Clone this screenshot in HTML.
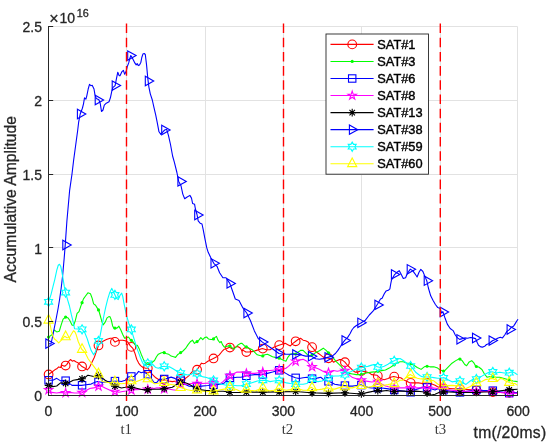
<!DOCTYPE html>
<html lang="en"><head><meta charset="utf-8"><title>Accumulative Amplitude</title>
<style>html,body{margin:0;padding:0;background:#fff}body{width:550px;height:446px;overflow:hidden}svg{display:block}text{font-family:"Liberation Sans", Arial, Helvetica, sans-serif;fill:#262626;stroke:#262626;stroke-width:0.3px}</style></head><body>
<svg width="550" height="446" viewBox="0 0 550 446">
<rect width="550" height="446" fill="#fff"/>
<path d="M48.5 26.5V395.5M126.5 26.5V395.5M205.5 26.5V395.5M283.5 26.5V395.5M361.5 26.5V395.5M440.5 26.5V395.5M517.5 26.5V395.5M48.5 395.5H517.5M48.5 321.5H517.5M48.5 247.5H517.5M48.5 174.5H517.5M48.5 100.5H517.5M48.5 26.5H517.5" stroke="#e2e2e2" stroke-width="1" fill="none"/>
<path d="M48.45 374.55L51.64 372.26L54.82 369.84L56.73 368.82L58.64 366.91L60.55 367.55L61.82 365L63.35 365.89L65 366.15L66.91 364.36L68.82 361.18L70.73 359.53L72.26 361.18L73.91 360.55L75.82 361.82L78.36 363.09L81.55 366.15L84.73 367.93L87.27 369.84L89.18 367.93L91.73 362.84L94.27 357.49L96.18 352.15L98.73 344.76L102.55 341.46L106.36 339.55L110.18 338.27L112.55 338.27L113.36 340.18L115.09 342.09L117.64 340.82L120.18 340.18L122.73 340.18L125.27 340.82L127.82 342.09L130.36 345.91L132.91 348.46L134.82 352.91L136.73 359.27L138.64 363.09L140.55 365.64L143.09 367.55L145.64 368.18L148.18 368.18L150.73 372.73L153.27 375.27L155.82 377.82L159 379.73L162.18 380.36L164.73 379.73L168.55 381L172.36 381.64L176.18 381L179.82 378.46L183 380.36L188.73 375.91L192.55 371.46L196.36 370.82L198.91 367L201.46 363.18L203.36 363.82L205.27 363.18L207.82 361.27L210.36 360L212.91 358.73L216.73 356.82L219.27 354.91L221.82 351.73L224.36 349.18L226.91 348.55L229.46 347.27L232.64 349.09L235.18 347.18L237.73 346.55L240.27 348.07L242 351L242.82 350.11L245.82 352.02L249.64 351.89L253.45 351.38L257.27 350.11L262.36 348.46L266.18 349.73L270 349.73L273.82 347.18L278.91 345.27L282.73 344L285.27 343.36L287.82 344.64L290.36 345.91L292.91 343.36L295.46 341.46L298 339.55L300.55 338.27L303.09 340.18L305.64 340.82L308.18 342.09L311.18 346.27L313.09 348.18L315.64 351.36L318.18 353.27L320.73 355.18L323.27 357.09L327.73 357.98L330.91 359L333.46 362.18L336 360.91L339.18 359.64L341.73 359.64L344.91 362.18L347.46 365.24L350 367.66L352.55 370.21L355.09 372.12L357.64 372.12L360.82 370.85L364 371.48L366.55 372.12L369.09 372.76L371.64 374.66L377.18 375.27L380.36 378.46L384.18 379.73L388 378.46L390.55 377.18L393.73 376.55L396.91 377.18L400.73 377.82L404.55 380.36L410.27 382.91L414.73 382.91L418.55 382.91L422.36 383.55L426.82 382.91L431.27 383.8L435.09 385.2L437.64 386.73L440.18 387.75L444 388.38L459.38 389.02L464.73 389.27L471.09 389.91L475.8 390.29L483.82 390.8L492.22 392.07L500.36 392.46L508.64 392.84L517.55 392.84" fill="none" stroke="#ff0000" stroke-width="1.1" stroke-linejoin="round"/>
<g><circle cx="48.6" cy="374.44" r="4.35" fill="none" stroke="#ff0000" stroke-width="1.1" stroke-linejoin="miter"/><circle cx="65.63" cy="365.56" r="4.35" fill="none" stroke="#ff0000" stroke-width="1.1" stroke-linejoin="miter"/><circle cx="82.06" cy="366.44" r="4.35" fill="none" stroke="#ff0000" stroke-width="1.1" stroke-linejoin="miter"/><circle cx="98.49" cy="345.46" r="4.35" fill="none" stroke="#ff0000" stroke-width="1.1" stroke-linejoin="miter"/><circle cx="114.92" cy="341.9" r="4.35" fill="none" stroke="#ff0000" stroke-width="1.1" stroke-linejoin="miter"/><circle cx="131.35" cy="346.9" r="4.35" fill="none" stroke="#ff0000" stroke-width="1.1" stroke-linejoin="miter"/><circle cx="147.78" cy="368.18" r="4.35" fill="none" stroke="#ff0000" stroke-width="1.1" stroke-linejoin="miter"/><circle cx="164.21" cy="379.86" r="4.35" fill="none" stroke="#ff0000" stroke-width="1.1" stroke-linejoin="miter"/><circle cx="180.64" cy="378.95" r="4.35" fill="none" stroke="#ff0000" stroke-width="1.1" stroke-linejoin="miter"/><circle cx="197.07" cy="369.76" r="4.35" fill="none" stroke="#ff0000" stroke-width="1.1" stroke-linejoin="miter"/><circle cx="213.5" cy="358.44" r="4.35" fill="none" stroke="#ff0000" stroke-width="1.1" stroke-linejoin="miter"/><circle cx="229.93" cy="347.54" r="4.35" fill="none" stroke="#ff0000" stroke-width="1.1" stroke-linejoin="miter"/><circle cx="246.36" cy="352" r="4.35" fill="none" stroke="#ff0000" stroke-width="1.1" stroke-linejoin="miter"/><circle cx="262.79" cy="348.6" r="4.35" fill="none" stroke="#ff0000" stroke-width="1.1" stroke-linejoin="miter"/><circle cx="279.22" cy="345.17" r="4.35" fill="none" stroke="#ff0000" stroke-width="1.1" stroke-linejoin="miter"/><circle cx="295.65" cy="341.32" r="4.35" fill="none" stroke="#ff0000" stroke-width="1.1" stroke-linejoin="miter"/><circle cx="312.08" cy="347.17" r="4.35" fill="none" stroke="#ff0000" stroke-width="1.1" stroke-linejoin="miter"/><circle cx="328.51" cy="358.23" r="4.35" fill="none" stroke="#ff0000" stroke-width="1.1" stroke-linejoin="miter"/><circle cx="344.94" cy="362.22" r="4.35" fill="none" stroke="#ff0000" stroke-width="1.1" stroke-linejoin="miter"/><circle cx="361.37" cy="370.96" r="4.35" fill="none" stroke="#ff0000" stroke-width="1.1" stroke-linejoin="miter"/><circle cx="377.8" cy="375.89" r="4.35" fill="none" stroke="#ff0000" stroke-width="1.1" stroke-linejoin="miter"/><circle cx="394.23" cy="376.65" r="4.35" fill="none" stroke="#ff0000" stroke-width="1.1" stroke-linejoin="miter"/><circle cx="410.66" cy="382.91" r="4.35" fill="none" stroke="#ff0000" stroke-width="1.1" stroke-linejoin="miter"/><circle cx="427.09" cy="382.96" r="4.35" fill="none" stroke="#ff0000" stroke-width="1.1" stroke-linejoin="miter"/><circle cx="443.52" cy="388.3" r="4.35" fill="none" stroke="#ff0000" stroke-width="1.1" stroke-linejoin="miter"/><circle cx="459.95" cy="389.05" r="4.35" fill="none" stroke="#ff0000" stroke-width="1.1" stroke-linejoin="miter"/><circle cx="476.38" cy="390.33" r="4.35" fill="none" stroke="#ff0000" stroke-width="1.1" stroke-linejoin="miter"/><circle cx="492.81" cy="392.1" r="4.35" fill="none" stroke="#ff0000" stroke-width="1.1" stroke-linejoin="miter"/><circle cx="509.24" cy="392.84" r="4.35" fill="none" stroke="#ff0000" stroke-width="1.1" stroke-linejoin="miter"/></g>
<path d="M48.58 337.13L52.27 334.46L54.18 330L56.73 331.91L59.27 331.27L61.18 324.91L63.09 319.18L65.64 317.02L68.18 317.91L70.09 321.09L72 324.91L73.53 325.55L75.18 321.09L77.09 313.46L79 311.55L80.91 305.82L83.46 298.82L85.36 296.27L87.91 292.84L90.46 293.73L92.11 298.18L93.64 303.91L95.55 305.18L97.46 308.36L98.73 310.27L100 314.73L101.91 321.73L103.18 324.91L105.09 322.36L107 317.91L108.91 316.64L110 316.73L111.27 319.91L112.55 325.64L113.82 328.18L115.09 328.09L117 328.09L118.91 326.18L120.82 330L122.73 334.45L124.64 338.27L126.55 337.64L128.45 337L130.36 339.55L132.91 341.46L135.46 345.27L137.36 345.27L139.27 349.09L141.18 354.18L143.09 358.64L145 362.46L146.91 363.73L149.46 363.09L152 362.46L154.55 360.55L156.46 356.73L158.36 354.18L160.91 352.91L163.46 352.27L166 353.55L168.55 354.18L171.09 356.09L173.64 356.73L175.55 357.36L177.46 354.82L180.22 352.91L183 351L185.55 348.46L188.09 344.64L190.64 341.46L192.55 340.18L194.45 343.36L196.36 342.09L198.91 340.18L200.82 337.64L202.73 339.55L204.64 337.64L206.55 337L208.46 338.91L211 339.55L212.91 339.55L214.82 337.64L216.47 336.36L218 340.18L219.91 342.73L221.18 341.46L222.46 344.64L224.36 347.18L226.27 346.55L228.18 345.91L230.09 345.91L232 347.82L233.91 349.09L235.82 347.18L238.36 344.64L240.91 343.36L242 343.36L244.55 345.91L247.09 347.18L249.64 348.46L252.18 349.73L254.73 352.27L257.27 354.82L259.82 355.46L262.36 356.09L264.91 354.82L267.46 354.18L270 355.46L272.55 356.73L275.09 357.36L278.91 358L281.46 359.27L284 360.55L285.91 361.18L287.82 357.36L290.36 354.18L292.91 353.55L295.46 354.18L298 352.27L300.55 350.36L303.09 350.36L305.64 352.91L308.18 355.46L311.82 355.18L315.64 352.64L319.45 350.73L323.27 348.18L325.82 350.09L328.36 352.64L330.91 355.57L333.46 358.12L336 361.3L338.55 363.85L341.09 366.39L343.64 369.57L346.18 372.12L348.73 373.39L352.55 374.03L356.36 374.66L360.82 374.66L364 373.39L367.82 372.76L371.64 372.12L374 371.92L377.82 371.28L381.64 370.65L385.45 370.01L389.27 368.1L393.09 365.55L396.91 363.01L400.09 361.74L403.27 361.74L406.46 363.01L410.27 363.65L413.46 364.92L417.27 367.46L421.09 369.37L424.27 366.83L426.82 366.19L430 366.83L433.82 366.83L437.64 368.1L440.18 370.01L444 371.28L452 363.18L455.82 360.64L459.38 358.73L462.18 360.64L464.73 364.45L466.64 365.73L469.18 361.91L471.73 360.64L473.64 362.55L475.8 366.36L478.73 367L481.91 369.55L484.46 374L487 377.18L490.18 376.55L492.22 376.55L495.91 377.18L499.73 377.18L504.18 378.46L508.64 379.73L513.09 381L517.55 381.64" fill="none" stroke="#00ff00" stroke-width="1.1" stroke-linejoin="round"/>
<g><circle cx="48.6" cy="337.12" r="1.6" fill="#00ff00"/><circle cx="65.63" cy="317.03" r="1.6" fill="#00ff00"/><circle cx="82.06" cy="302.66" r="1.6" fill="#00ff00"/><circle cx="98.49" cy="309.91" r="1.6" fill="#00ff00"/><circle cx="114.92" cy="328.1" r="1.6" fill="#00ff00"/><circle cx="131.35" cy="340.29" r="1.6" fill="#00ff00"/><circle cx="147.78" cy="363.51" r="1.6" fill="#00ff00"/><circle cx="164.21" cy="352.65" r="1.6" fill="#00ff00"/><circle cx="180.64" cy="352.62" r="1.6" fill="#00ff00"/><circle cx="197.07" cy="341.56" r="1.6" fill="#00ff00"/><circle cx="213.5" cy="338.96" r="1.6" fill="#00ff00"/><circle cx="229.93" cy="345.91" r="1.6" fill="#00ff00"/><circle cx="246.36" cy="346.81" r="1.6" fill="#00ff00"/><circle cx="262.79" cy="355.88" r="1.6" fill="#00ff00"/><circle cx="279.22" cy="358.15" r="1.6" fill="#00ff00"/><circle cx="295.65" cy="354.04" r="1.6" fill="#00ff00"/><circle cx="312.08" cy="355.01" r="1.6" fill="#00ff00"/><circle cx="328.51" cy="352.81" r="1.6" fill="#00ff00"/><circle cx="344.94" cy="370.88" r="1.6" fill="#00ff00"/><circle cx="361.37" cy="374.44" r="1.6" fill="#00ff00"/><circle cx="377.8" cy="371.28" r="1.6" fill="#00ff00"/><circle cx="394.23" cy="364.79" r="1.6" fill="#00ff00"/><circle cx="410.66" cy="363.81" r="1.6" fill="#00ff00"/><circle cx="427.09" cy="366.24" r="1.6" fill="#00ff00"/><circle cx="443.52" cy="371.12" r="1.6" fill="#00ff00"/><circle cx="459.95" cy="359.12" r="1.6" fill="#00ff00"/><circle cx="476.38" cy="366.49" r="1.6" fill="#00ff00"/><circle cx="492.81" cy="376.65" r="1.6" fill="#00ff00"/><circle cx="509.24" cy="379.9" r="1.6" fill="#00ff00"/></g>
<path d="M48.45 380.27L52.91 380.27L56.73 378.36L60.55 380.91L65 380.27L68.82 382.82L72 385.36L75.82 385.36L81.55 385.36L86 384.73L91.09 384.09L94.91 382.18L97.46 381.55L101.27 382.18L105.09 382.18L108.91 381.55L113.59 381.24L117.64 380.93L121.45 381.56L125.27 380.29L127.82 377.11L131 376.47L134.18 376.47L136.73 373.93L138.64 371.38L141.18 372.66L143.73 372.02L147.55 373.93L150.73 377.75L153.91 382.2L156.46 382.84L159 379.66L164.09 379.02L167.27 378.38L171.09 377.11L174.91 378.38L177.46 380.29L179.82 380.36L181.09 381L184.91 384.18L188.73 386.09L196.36 386.47L201.46 386.09L207.82 385.46L212.91 384.82L216.73 384.82L220.55 384.18L224.36 382.91L226.91 380.36L229.46 377.82L233.27 377.82L237.09 377.18L240.91 377.18L245.82 375.91L249.64 375.27L254.73 374.64L258.55 374.64L262.36 374.64L267.46 373.36L272.55 372.09L278.91 370.18L282.73 371.46L285.91 373.36L289.09 375.27L292.27 376.55L295.46 377.82L299.27 378.46L303.09 377.82L306.91 377.18L311.18 378.48L314.36 379.12L318.18 377.85L320.73 377.21L324.55 380.39L327.73 381.03L330.91 382.3L334.73 384.21L338.55 384.85L344.27 385.48L348.73 386.12L352.55 386.12L356.36 385.48L360.82 384.85L364 386.12L367.82 387.39L371.64 388.03L377.18 388L381.64 388L386.73 388.64L393.73 389.91L399.46 390.55L404.55 391.18L410.27 392.46L414.73 389.91L418.55 388.64L422.36 387.36L426.82 387.36L430 388L432.55 389.27L435.09 389.91L437.64 388.64L442.73 389.91L459.38 392.46L467.27 391.18L475.8 389.91L483.82 390.55L492.22 390.55L500.36 391.82L508.64 393.09L517.55 392.46" fill="none" stroke="#0000ff" stroke-width="1.1" stroke-linejoin="round"/>
<g><rect x="44.9" y="376.57" width="7.4" height="7.4" fill="none" stroke="#0000ff" stroke-width="1.1" stroke-linejoin="miter"/><rect x="61.93" y="376.99" width="7.4" height="7.4" fill="none" stroke="#0000ff" stroke-width="1.1" stroke-linejoin="miter"/><rect x="78.36" y="381.59" width="7.4" height="7.4" fill="none" stroke="#0000ff" stroke-width="1.1" stroke-linejoin="miter"/><rect x="94.79" y="378.02" width="7.4" height="7.4" fill="none" stroke="#0000ff" stroke-width="1.1" stroke-linejoin="miter"/><rect x="111.22" y="377.43" width="7.4" height="7.4" fill="none" stroke="#0000ff" stroke-width="1.1" stroke-linejoin="miter"/><rect x="127.65" y="372.77" width="7.4" height="7.4" fill="none" stroke="#0000ff" stroke-width="1.1" stroke-linejoin="miter"/><rect x="144.08" y="370.51" width="7.4" height="7.4" fill="none" stroke="#0000ff" stroke-width="1.1" stroke-linejoin="miter"/><rect x="160.51" y="375.3" width="7.4" height="7.4" fill="none" stroke="#0000ff" stroke-width="1.1" stroke-linejoin="miter"/><rect x="176.94" y="377.07" width="7.4" height="7.4" fill="none" stroke="#0000ff" stroke-width="1.1" stroke-linejoin="miter"/><rect x="193.37" y="382.72" width="7.4" height="7.4" fill="none" stroke="#0000ff" stroke-width="1.1" stroke-linejoin="miter"/><rect x="209.8" y="381.12" width="7.4" height="7.4" fill="none" stroke="#0000ff" stroke-width="1.1" stroke-linejoin="miter"/><rect x="226.23" y="374.12" width="7.4" height="7.4" fill="none" stroke="#0000ff" stroke-width="1.1" stroke-linejoin="miter"/><rect x="242.66" y="372.12" width="7.4" height="7.4" fill="none" stroke="#0000ff" stroke-width="1.1" stroke-linejoin="miter"/><rect x="259.09" y="370.83" width="7.4" height="7.4" fill="none" stroke="#0000ff" stroke-width="1.1" stroke-linejoin="miter"/><rect x="275.52" y="366.58" width="7.4" height="7.4" fill="none" stroke="#0000ff" stroke-width="1.1" stroke-linejoin="miter"/><rect x="291.95" y="374.15" width="7.4" height="7.4" fill="none" stroke="#0000ff" stroke-width="1.1" stroke-linejoin="miter"/><rect x="308.38" y="374.96" width="7.4" height="7.4" fill="none" stroke="#0000ff" stroke-width="1.1" stroke-linejoin="miter"/><rect x="324.81" y="377.64" width="7.4" height="7.4" fill="none" stroke="#0000ff" stroke-width="1.1" stroke-linejoin="miter"/><rect x="341.24" y="381.88" width="7.4" height="7.4" fill="none" stroke="#0000ff" stroke-width="1.1" stroke-linejoin="miter"/><rect x="357.67" y="381.37" width="7.4" height="7.4" fill="none" stroke="#0000ff" stroke-width="1.1" stroke-linejoin="miter"/><rect x="374.1" y="384.3" width="7.4" height="7.4" fill="none" stroke="#0000ff" stroke-width="1.1" stroke-linejoin="miter"/><rect x="390.53" y="386.27" width="7.4" height="7.4" fill="none" stroke="#0000ff" stroke-width="1.1" stroke-linejoin="miter"/><rect x="406.96" y="388.54" width="7.4" height="7.4" fill="none" stroke="#0000ff" stroke-width="1.1" stroke-linejoin="miter"/><rect x="423.39" y="383.71" width="7.4" height="7.4" fill="none" stroke="#0000ff" stroke-width="1.1" stroke-linejoin="miter"/><rect x="439.82" y="386.33" width="7.4" height="7.4" fill="none" stroke="#0000ff" stroke-width="1.1" stroke-linejoin="miter"/><rect x="456.25" y="388.67" width="7.4" height="7.4" fill="none" stroke="#0000ff" stroke-width="1.1" stroke-linejoin="miter"/><rect x="472.68" y="386.26" width="7.4" height="7.4" fill="none" stroke="#0000ff" stroke-width="1.1" stroke-linejoin="miter"/><rect x="489.11" y="386.94" width="7.4" height="7.4" fill="none" stroke="#0000ff" stroke-width="1.1" stroke-linejoin="miter"/><rect x="505.54" y="389.35" width="7.4" height="7.4" fill="none" stroke="#0000ff" stroke-width="1.1" stroke-linejoin="miter"/></g>
<path d="M48.45 389.82L51.64 392.36L56.73 393L60.55 392.36L65 393L69.46 392.36L74.55 393L81.55 393L86 390.46L89.82 388.55L93.64 387.91L97.46 386.64L101.27 386L105.09 387.91L108.91 389.82L113.36 391.73L114.45 391.58L118.91 392.22L122.73 391.58L126.55 390.95L131 390.31L135.46 389.67L140.55 389.42L144.36 389.42L147.55 389.42L152 389.04L157.09 387.76L160.91 388.4L164.09 389.04L168.55 389.04L172.36 389.67L176.18 390.31L179.82 384.18L183.64 384.18L187.45 384.18L191.27 383.55L196.36 383.55L201.46 383.55L212.91 382.91L218 383.55L220.55 383.55L223.09 381.64L225.64 379.09L229.46 375.91L232 374.64L234.55 373.36L237.09 372.09L240.91 372.09L245.82 373.36L249.64 373.36L254.73 373.36L258.55 372.73L262.36 372.09L267.46 370.82L272.55 370.18L278.91 369.55L282.73 369.55L285.91 368.27L288.46 366.36L291 363.82L293.55 361.91L296.09 361.27L299.27 360L303.09 359.36L306.91 361.27L311.18 366.75L314.36 367.39L318.18 368.66L320.73 369.94L323.91 371.85L327.73 373.12L330.91 371.21L333.46 370.57L337.27 371.21L341.09 370.57L344.91 370.57L347.46 373.12L350 375.66L352.55 377.57L356.36 378.85L360.82 380.12L364 380.76L367.82 381.39L371.64 382.03L377.18 381.21L381.64 384.01L385.45 385.92L390.55 387.19L393.73 388.08L399.46 387.83L404.55 387.83L410.27 387.83L416 387.83L422.36 387.83L426.82 388.46L432.55 387.83L437.64 388.46L444 389.1L459.38 391.18L467.27 391.18L475.8 391.18L483.82 391.56L492.22 391.82L500.36 392.46L508.64 393.09L517.55 393.35" fill="none" stroke="#ff00ff" stroke-width="1.1" stroke-linejoin="round"/>
<g><polygon points="48.6,385.54 49.59,388.58 52.78,388.58 50.2,390.46 51.19,393.5 48.6,391.62 46.01,393.5 47,390.46 44.42,388.58 47.61,388.58" fill="none" stroke="#ff00ff" stroke-width="1.1" stroke-linejoin="miter"/><polygon points="65.63,388.51 66.62,391.55 69.81,391.55 67.23,393.43 68.22,396.47 65.63,394.59 63.04,396.47 64.03,393.43 61.45,391.55 64.64,391.55" fill="none" stroke="#ff00ff" stroke-width="1.1" stroke-linejoin="miter"/><polygon points="82.06,388.31 83.05,391.35 86.24,391.35 83.66,393.23 84.65,396.27 82.06,394.39 79.47,396.27 80.46,393.23 77.88,391.35 81.07,391.35" fill="none" stroke="#ff00ff" stroke-width="1.1" stroke-linejoin="miter"/><polygon points="98.49,382.07 99.48,385.11 102.67,385.11 100.09,386.99 101.08,390.03 98.49,388.15 95.9,390.03 96.89,386.99 94.31,385.11 97.5,385.11" fill="none" stroke="#ff00ff" stroke-width="1.1" stroke-linejoin="miter"/><polygon points="114.92,387.25 115.91,390.29 119.1,390.29 116.52,392.17 117.51,395.21 114.92,393.33 112.33,395.21 113.32,392.17 110.74,390.29 113.93,390.29" fill="none" stroke="#ff00ff" stroke-width="1.1" stroke-linejoin="miter"/><polygon points="131.35,385.86 132.34,388.9 135.53,388.9 132.95,390.78 133.94,393.82 131.35,391.94 128.76,393.82 129.75,390.78 127.17,388.9 130.36,388.9" fill="none" stroke="#ff00ff" stroke-width="1.1" stroke-linejoin="miter"/><polygon points="147.78,385 148.77,388.04 151.96,388.04 149.38,389.92 150.37,392.96 147.78,391.08 145.19,392.96 146.18,389.92 143.6,388.04 146.79,388.04" fill="none" stroke="#ff00ff" stroke-width="1.1" stroke-linejoin="miter"/><polygon points="164.21,384.64 165.2,387.68 168.39,387.68 165.81,389.56 166.8,392.6 164.21,390.72 161.62,392.6 162.61,389.56 160.03,387.68 163.22,387.68" fill="none" stroke="#ff00ff" stroke-width="1.1" stroke-linejoin="miter"/><polygon points="180.64,379.78 181.63,382.82 184.82,382.82 182.24,384.7 183.23,387.74 180.64,385.86 178.05,387.74 179.04,384.7 176.46,382.82 179.65,382.82" fill="none" stroke="#ff00ff" stroke-width="1.1" stroke-linejoin="miter"/><polygon points="197.07,379.15 198.06,382.19 201.25,382.19 198.67,384.07 199.66,387.11 197.07,385.23 194.48,387.11 195.47,384.07 192.89,382.19 196.08,382.19" fill="none" stroke="#ff00ff" stroke-width="1.1" stroke-linejoin="miter"/><polygon points="213.5,378.58 214.49,381.62 217.68,381.62 215.1,383.5 216.09,386.54 213.5,384.66 210.91,386.54 211.9,383.5 209.32,381.62 212.51,381.62" fill="none" stroke="#ff00ff" stroke-width="1.1" stroke-linejoin="miter"/><polygon points="229.93,371.28 230.92,374.32 234.11,374.32 231.53,376.19 232.52,379.23 229.93,377.36 227.34,379.23 228.33,376.19 225.75,374.32 228.94,374.32" fill="none" stroke="#ff00ff" stroke-width="1.1" stroke-linejoin="miter"/><polygon points="246.36,368.96 247.35,372 250.54,372 247.96,373.88 248.95,376.92 246.36,375.04 243.77,376.92 244.76,373.88 242.18,372 245.37,372" fill="none" stroke="#ff00ff" stroke-width="1.1" stroke-linejoin="miter"/><polygon points="262.79,367.58 263.78,370.62 266.97,370.62 264.39,372.5 265.38,375.54 262.79,373.66 260.2,375.54 261.19,372.5 258.61,370.62 261.8,370.62" fill="none" stroke="#ff00ff" stroke-width="1.1" stroke-linejoin="miter"/><polygon points="279.22,365.15 280.21,368.19 283.4,368.19 280.82,370.07 281.81,373.11 279.22,371.23 276.63,373.11 277.62,370.07 275.04,368.19 278.23,368.19" fill="none" stroke="#ff00ff" stroke-width="1.1" stroke-linejoin="miter"/><polygon points="295.65,356.98 296.64,360.02 299.83,360.02 297.25,361.9 298.24,364.94 295.65,363.06 293.06,364.94 294.05,361.9 291.47,360.02 294.66,360.02" fill="none" stroke="#ff00ff" stroke-width="1.1" stroke-linejoin="miter"/><polygon points="312.08,362.53 313.07,365.57 316.26,365.57 313.68,367.45 314.67,370.49 312.08,368.61 309.49,370.49 310.48,367.45 307.9,365.57 311.09,365.57" fill="none" stroke="#ff00ff" stroke-width="1.1" stroke-linejoin="miter"/><polygon points="328.51,368.25 329.5,371.29 332.69,371.29 330.11,373.17 331.1,376.21 328.51,374.33 325.92,376.21 326.91,373.17 324.33,371.29 327.52,371.29" fill="none" stroke="#ff00ff" stroke-width="1.1" stroke-linejoin="miter"/><polygon points="344.94,366.2 345.93,369.24 349.12,369.24 346.54,371.12 347.53,374.16 344.94,372.28 342.35,374.16 343.34,371.12 340.76,369.24 343.95,369.24" fill="none" stroke="#ff00ff" stroke-width="1.1" stroke-linejoin="miter"/><polygon points="361.37,375.83 362.36,378.87 365.55,378.87 362.97,380.75 363.96,383.79 361.37,381.91 358.78,383.79 359.77,380.75 357.19,378.87 360.38,378.87" fill="none" stroke="#ff00ff" stroke-width="1.1" stroke-linejoin="miter"/><polygon points="377.8,377.2 378.79,380.24 381.98,380.24 379.4,382.12 380.39,385.16 377.8,383.28 375.21,385.16 376.2,382.12 373.62,380.24 376.81,380.24" fill="none" stroke="#ff00ff" stroke-width="1.1" stroke-linejoin="miter"/><polygon points="394.23,383.66 395.22,386.7 398.41,386.7 395.83,388.58 396.82,391.62 394.23,389.74 391.64,391.62 392.63,388.58 390.05,386.7 393.24,386.7" fill="none" stroke="#ff00ff" stroke-width="1.1" stroke-linejoin="miter"/><polygon points="410.66,383.43 411.65,386.47 414.84,386.47 412.26,388.35 413.25,391.39 410.66,389.51 408.07,391.39 409.06,388.35 406.48,386.47 409.67,386.47" fill="none" stroke="#ff00ff" stroke-width="1.1" stroke-linejoin="miter"/><polygon points="427.09,384.03 428.08,387.07 431.27,387.07 428.69,388.95 429.68,391.99 427.09,390.11 424.5,391.99 425.49,388.95 422.91,387.07 426.1,387.07" fill="none" stroke="#ff00ff" stroke-width="1.1" stroke-linejoin="miter"/><polygon points="443.52,384.65 444.51,387.69 447.7,387.69 445.12,389.57 446.11,392.61 443.52,390.73 440.93,392.61 441.92,389.57 439.34,387.69 442.53,387.69" fill="none" stroke="#ff00ff" stroke-width="1.1" stroke-linejoin="miter"/><polygon points="459.95,386.78 460.94,389.82 464.13,389.82 461.55,391.7 462.54,394.74 459.95,392.86 457.36,394.74 458.35,391.7 455.77,389.82 458.96,389.82" fill="none" stroke="#ff00ff" stroke-width="1.1" stroke-linejoin="miter"/><polygon points="476.38,386.81 477.37,389.85 480.56,389.85 477.98,391.73 478.97,394.77 476.38,392.89 473.79,394.77 474.78,391.73 472.2,389.85 475.39,389.85" fill="none" stroke="#ff00ff" stroke-width="1.1" stroke-linejoin="miter"/><polygon points="492.81,387.47 493.8,390.51 496.99,390.51 494.41,392.39 495.4,395.43 492.81,393.55 490.22,395.43 491.21,392.39 488.63,390.51 491.82,390.51" fill="none" stroke="#ff00ff" stroke-width="1.1" stroke-linejoin="miter"/><polygon points="509.24,388.71 510.23,391.75 513.42,391.75 510.84,393.63 511.83,396.67 509.24,394.79 506.65,396.67 507.64,393.63 505.06,391.75 508.25,391.75" fill="none" stroke="#ff00ff" stroke-width="1.1" stroke-linejoin="miter"/></g>
<path d="M48.45 385.36L52.91 386.64L56.73 386L60.55 382.82L65 383.46L69.46 382.18L73.27 380.27L77.09 379.64L81.55 379L84.73 377.73L87.91 375.18L90.46 375.82L93.64 376.46L97.46 375.18L101.27 377.09L105.09 380.27L108.91 382.18L113.36 384.73L114.45 386.06L117.64 386.69L121.45 387.96L125.27 387.33L127.82 386.69L131 387.33L135.46 387.96L140.55 389.24L144.36 389.87L147.55 389.87L152 389.24L157.09 389.24L160.91 389.24L164.09 388.6L168.55 387.96L172.36 387.33L176.18 384.78L179.82 382.27L183.64 382.27L187.45 383.55L191.27 385.46L193.82 387.36L196.36 388.64L201.46 389.91L206.55 390.55L210.36 390.55L212.91 391.18L218 391.18L223.09 391.18L226.91 391.82L229.46 392.46L234.55 392.46L239.64 392.46L245.82 392.09L262.36 392.09L278.91 391.84L295.46 391.46L311.18 392.76L327.73 393.39L344.27 392.76L360.82 394.03L369.09 392.12L377.18 390.51L381.64 391.15L386.73 390.51L393.73 391.78L399.46 391.15L404.55 391.15L410.27 391.78L416 391.15L422.36 391.78L426.82 393.06L431.27 394.96L435.09 394.33L438.91 392.42L444 391.78L459.38 392.46L467.27 392.46L475.8 392.46L483.82 392.07L492.22 391.82L500.36 390.8L508.64 389.91L517.55 389.27" fill="none" stroke="#000000" stroke-width="1.1" stroke-linejoin="round"/>
<g><path d="M44.7 385.4L52.5 385.4M45.84 382.65L51.36 388.16M48.6 381.5L48.6 389.3M51.36 382.65L45.84 388.16" fill="none" stroke="#000000" stroke-width="1.1" stroke-linejoin="miter"/><path d="M61.73 383.28L69.53 383.28M62.87 380.52L68.39 386.04M65.63 379.38L65.63 387.18M68.39 380.52L62.87 386.04" fill="none" stroke="#000000" stroke-width="1.1" stroke-linejoin="miter"/><path d="M78.16 378.8L85.96 378.8M79.3 376.04L84.82 381.55M82.06 374.9L82.06 382.7M84.82 376.04L79.3 381.55" fill="none" stroke="#000000" stroke-width="1.1" stroke-linejoin="miter"/><path d="M94.59 375.7L102.39 375.7M95.73 372.94L101.25 378.45M98.49 371.8L98.49 379.6M101.25 372.94L95.73 378.45" fill="none" stroke="#000000" stroke-width="1.1" stroke-linejoin="miter"/><path d="M111.02 386.15L118.82 386.15M112.16 383.4L117.68 388.91M114.92 382.25L114.92 390.05M117.68 383.4L112.16 388.91" fill="none" stroke="#000000" stroke-width="1.1" stroke-linejoin="miter"/><path d="M127.45 387.38L135.25 387.38M128.59 384.62L134.11 390.14M131.35 383.48L131.35 391.28M134.11 384.62L128.59 390.14" fill="none" stroke="#000000" stroke-width="1.1" stroke-linejoin="miter"/><path d="M143.88 389.84L151.68 389.84M145.02 387.08L150.54 392.6M147.78 385.94L147.78 393.74M150.54 387.08L145.02 392.6" fill="none" stroke="#000000" stroke-width="1.1" stroke-linejoin="miter"/><path d="M160.31 388.58L168.11 388.58M161.45 385.83L166.97 391.34M164.21 384.68L164.21 392.48M166.97 385.83L161.45 391.34" fill="none" stroke="#000000" stroke-width="1.1" stroke-linejoin="miter"/><path d="M176.74 382.27L184.54 382.27M177.88 379.51L183.4 385.03M180.64 378.37L180.64 386.17M183.4 379.51L177.88 385.03" fill="none" stroke="#000000" stroke-width="1.1" stroke-linejoin="miter"/><path d="M193.17 388.82L200.97 388.82M194.31 386.06L199.83 391.57M197.07 384.92L197.07 392.72M199.83 386.06L194.31 391.57" fill="none" stroke="#000000" stroke-width="1.1" stroke-linejoin="miter"/><path d="M209.6 391.18L217.4 391.18M210.74 388.42L216.26 393.94M213.5 387.28L213.5 395.08M216.26 388.42L210.74 393.94" fill="none" stroke="#000000" stroke-width="1.1" stroke-linejoin="miter"/><path d="M226.03 392.46L233.83 392.46M227.17 389.7L232.69 395.22M229.93 388.56L229.93 396.36M232.69 389.7L227.17 395.22" fill="none" stroke="#000000" stroke-width="1.1" stroke-linejoin="miter"/><path d="M242.46 392.09L250.26 392.09M243.6 389.33L249.12 394.85M246.36 388.19L246.36 395.99M249.12 389.33L243.6 394.85" fill="none" stroke="#000000" stroke-width="1.1" stroke-linejoin="miter"/><path d="M258.89 392.08L266.69 392.08M260.03 389.33L265.55 394.84M262.79 388.18L262.79 395.98M265.55 389.33L260.03 394.84" fill="none" stroke="#000000" stroke-width="1.1" stroke-linejoin="miter"/><path d="M275.32 391.83L283.12 391.83M276.46 389.08L281.98 394.59M279.22 387.93L279.22 395.73M281.98 389.08L276.46 394.59" fill="none" stroke="#000000" stroke-width="1.1" stroke-linejoin="miter"/><path d="M291.75 391.48L299.55 391.48M292.89 388.72L298.41 394.23M295.65 387.58L295.65 395.38M298.41 388.72L292.89 394.23" fill="none" stroke="#000000" stroke-width="1.1" stroke-linejoin="miter"/><path d="M308.18 392.79L315.98 392.79M309.32 390.04L314.84 395.55M312.08 388.89L312.08 396.69M314.84 390.04L309.32 395.55" fill="none" stroke="#000000" stroke-width="1.1" stroke-linejoin="miter"/><path d="M324.61 393.36L332.41 393.36M325.75 390.6L331.27 396.12M328.51 389.46L328.51 397.26M331.27 390.6L325.75 396.12" fill="none" stroke="#000000" stroke-width="1.1" stroke-linejoin="miter"/><path d="M341.04 392.81L348.84 392.81M342.18 390.05L347.7 395.57M344.94 388.91L344.94 396.71M347.7 390.05L342.18 395.57" fill="none" stroke="#000000" stroke-width="1.1" stroke-linejoin="miter"/><path d="M357.47 393.9L365.27 393.9M358.61 391.15L364.13 396.66M361.37 390L361.37 397.8M364.13 391.15L358.61 396.66" fill="none" stroke="#000000" stroke-width="1.1" stroke-linejoin="miter"/><path d="M373.9 390.6L381.7 390.6M375.04 387.84L380.56 393.36M377.8 386.7L377.8 394.5M380.56 387.84L375.04 393.36" fill="none" stroke="#000000" stroke-width="1.1" stroke-linejoin="miter"/><path d="M390.33 391.73L398.13 391.73M391.47 388.97L396.99 394.48M394.23 387.83L394.23 395.63M396.99 388.97L391.47 394.48" fill="none" stroke="#000000" stroke-width="1.1" stroke-linejoin="miter"/><path d="M406.76 391.74L414.56 391.74M407.9 388.98L413.42 394.49M410.66 387.84L410.66 395.64M413.42 388.98L407.9 394.49" fill="none" stroke="#000000" stroke-width="1.1" stroke-linejoin="miter"/><path d="M423.19 393.18L430.99 393.18M424.33 390.42L429.85 395.93M427.09 389.28L427.09 397.08M429.85 390.42L424.33 395.93" fill="none" stroke="#000000" stroke-width="1.1" stroke-linejoin="miter"/><path d="M439.62 391.84L447.42 391.84M440.76 389.08L446.28 394.6M443.52 387.94L443.52 395.74M446.28 389.08L440.76 394.6" fill="none" stroke="#000000" stroke-width="1.1" stroke-linejoin="miter"/><path d="M456.05 392.46L463.85 392.46M457.19 389.7L462.71 395.22M459.95 388.56L459.95 396.36M462.71 389.7L457.19 395.22" fill="none" stroke="#000000" stroke-width="1.1" stroke-linejoin="miter"/><path d="M472.48 392.43L480.28 392.43M473.62 389.67L479.14 395.19M476.38 388.53L476.38 396.33M479.14 389.67L473.62 395.19" fill="none" stroke="#000000" stroke-width="1.1" stroke-linejoin="miter"/><path d="M488.91 391.75L496.71 391.75M490.05 388.99L495.57 394.5M492.81 387.85L492.81 395.65M495.57 388.99L490.05 394.5" fill="none" stroke="#000000" stroke-width="1.1" stroke-linejoin="miter"/><path d="M505.34 389.87L513.14 389.87M506.48 387.11L512 392.62M509.24 385.97L509.24 393.77M512 387.11L506.48 392.62" fill="none" stroke="#000000" stroke-width="1.1" stroke-linejoin="miter"/></g>
<path d="M48.5 343.6L51 344L53.5 332L56.1 319L58 309L59.5 300L61.2 288L62.6 275.9L64.2 258L65.2 245.4L66.9 221L69.6 190.7L72 174L73.6 160.5L77.7 130.2L78.7 121.8L80.2 114L82.4 108.25L83.5 103.8L84.5 97.8L85.9 99.1L86.8 95.8L88.2 89L89.5 84.3L90.9 85.7L92.2 85.3L94 89L94.9 94.4L96.2 98.5L98.9 99.8L100.3 103.8L101.5 111.5L103 110L104.3 105.2L106.3 103.2L109 101.8L110.4 97.8L111.7 91.7L112.8 87.7L115.1 85.7L116.4 78.9L117.8 72.2L119.1 75.6L120 75.7L122 71.6L123.4 70.3L124.7 74.3L126.1 71.6L127.4 66.2L128.7 62.9L129.7 58.8L130.8 55.5L132.1 57.5L133.5 60.2L134.8 62.9L136.2 64.9L137.2 63.6L138.2 65.6L139.5 64.9L140.9 62.2L141.8 57.5L142.9 54.1L144.2 53.5L145.3 54.5L146.55 64.9L147.8 78.35L148.9 87.1L150.3 93.8L152.3 100L154 107.6L155.8 115.3L157.3 122.9L159 131.8L160.9 134.4L162.9 131.8L164.7 130L166.7 129.3L168.5 135.6L170.5 144.5L172.6 156L174.4 162.3L176.9 172.5L178.7 181.4L181 185.75L182.8 194.1L184.7 198.8L186.8 197.3L189.9 195.4L191.5 198.1L192.6 203.5L194.6 204.3L195.4 209L197 214.5L198.2 220.8L200.1 223.2L202 224L203.3 230.2L204.8 238.1L206.8 247.95L208.2 252.3L210.7 257.4L213.8 263.3L217 266.3L219.6 272.7L222.9 277.8L226 277.8L229.8 283.4L232.7 291.5L235.3 299L239 300.4L242.9 308L246.7 313L250.5 320.7L254.4 330.9L258.2 338.5L262.4 342.1L266.2 344.6L270 347.2L273.8 349.7L278.9 353.5L284 354.2L289 354.2L295.5 354.2L300.5 354.8L305.6 356.1L311.2 356.1L315.6 358.8L319.5 359.3L323.3 358.6L327.7 357.4L332.2 356.1L335.4 353.5L337.9 350.4L340.5 346.5L342.4 343.4L344.9 340.2L347.5 337.6L350 333.8L351.9 330L353.8 327.5L356.4 325.5L360.8 323L365.4 320.2L369.3 315L373 311.2L377.9 303.5L380.5 299L382.1 298.2L384.4 293.5L386 291.1L388.3 290.3L389.9 288.8L390.7 284L391.5 280.1L394.6 274.6L397 272.3L399.3 270.7L400.9 273.8L403.3 278.5L405.6 277.8L407.2 273.8L410.3 269.1L412.7 270.7L415 273.8L417.1 277L419 272.3L420.8 269.4L422.9 271.5L424.5 275.4L426.8 280.9L428.4 288L430.7 295.8L433.1 300.5L435.4 304.5L437.8 307.6L440.2 308.4L441.7 313.1L442.9 311.7L445.1 318.3L447.3 324.1L450.2 328.5L453.1 330.6L455.3 335L457.5 337.9L459.6 339.4L462.5 338.6L464.7 337.9L467.6 338.3L470.5 337.5L472.7 337.9L475.6 338.6L477.1 342.3L478.5 345.2L480.7 346.9L482.9 347.1L485.1 345.9L486.5 344.5L488.7 343.7L492.4 340.8L495.3 339.4L498.2 337.9L500.4 337.2L502.5 337.9L504.7 335L506.9 331.4L509.1 329.9L511.3 327.3L513.5 326.3L514.9 324.1L517.1 320.5L518 319.2" fill="none" stroke="#0000ff" stroke-width="1.1" stroke-linejoin="round"/>
<g><polygon points="54.2,343.6 45.8,338.9 45.8,348.3" fill="none" stroke="#0000ff" stroke-width="1.1" stroke-linejoin="miter"/><polygon points="71.2,245 62.8,240.3 62.8,249.7" fill="none" stroke="#0000ff" stroke-width="1.1" stroke-linejoin="miter"/><polygon points="85.8,114 77.4,109.3 77.4,118.7" fill="none" stroke="#0000ff" stroke-width="1.1" stroke-linejoin="miter"/><polygon points="103.6,100 95.2,95.3 95.2,104.7" fill="none" stroke="#0000ff" stroke-width="1.1" stroke-linejoin="miter"/><polygon points="120.6,85.6 112.2,80.9 112.2,90.3" fill="none" stroke="#0000ff" stroke-width="1.1" stroke-linejoin="miter"/><polygon points="136.1,55.6 127.7,50.9 127.7,60.3" fill="none" stroke="#0000ff" stroke-width="1.1" stroke-linejoin="miter"/><polygon points="153.7,81 145.3,76.3 145.3,85.7" fill="none" stroke="#0000ff" stroke-width="1.1" stroke-linejoin="miter"/><polygon points="170.1,130 161.7,125.3 161.7,134.7" fill="none" stroke="#0000ff" stroke-width="1.1" stroke-linejoin="miter"/><polygon points="186.3,181.4 177.9,176.7 177.9,186.1" fill="none" stroke="#0000ff" stroke-width="1.1" stroke-linejoin="miter"/><polygon points="203.1,215 194.7,210.3 194.7,219.7" fill="none" stroke="#0000ff" stroke-width="1.1" stroke-linejoin="miter"/><polygon points="219.4,263.3 211,258.6 211,268" fill="none" stroke="#0000ff" stroke-width="1.1" stroke-linejoin="miter"/><polygon points="235.4,283.4 227,278.7 227,288.1" fill="none" stroke="#0000ff" stroke-width="1.1" stroke-linejoin="miter"/><polygon points="252.3,313 243.9,308.3 243.9,317.7" fill="none" stroke="#0000ff" stroke-width="1.1" stroke-linejoin="miter"/><polygon points="268,342 259.6,337.3 259.6,346.7" fill="none" stroke="#0000ff" stroke-width="1.1" stroke-linejoin="miter"/><polygon points="284.5,353.5 276.1,348.8 276.1,358.2" fill="none" stroke="#0000ff" stroke-width="1.1" stroke-linejoin="miter"/><polygon points="301.1,354.4 292.7,349.7 292.7,359.1" fill="none" stroke="#0000ff" stroke-width="1.1" stroke-linejoin="miter"/><polygon points="316.8,356.2 308.4,351.5 308.4,360.9" fill="none" stroke="#0000ff" stroke-width="1.1" stroke-linejoin="miter"/><polygon points="333.4,357.3 325,352.6 325,362" fill="none" stroke="#0000ff" stroke-width="1.1" stroke-linejoin="miter"/><polygon points="350.4,340.5 342,335.8 342,345.2" fill="none" stroke="#0000ff" stroke-width="1.1" stroke-linejoin="miter"/><polygon points="366.2,322.8 357.8,318.1 357.8,327.5" fill="none" stroke="#0000ff" stroke-width="1.1" stroke-linejoin="miter"/><polygon points="383.3,304.9 374.9,300.2 374.9,309.6" fill="none" stroke="#0000ff" stroke-width="1.1" stroke-linejoin="miter"/><polygon points="399.8,274.4 391.4,269.7 391.4,279.1" fill="none" stroke="#0000ff" stroke-width="1.1" stroke-linejoin="miter"/><polygon points="415.6,269.3 407.2,264.6 407.2,274" fill="none" stroke="#0000ff" stroke-width="1.1" stroke-linejoin="miter"/><polygon points="432.6,280.7 424.2,276 424.2,285.4" fill="none" stroke="#0000ff" stroke-width="1.1" stroke-linejoin="miter"/><polygon points="448.6,312 440.2,307.3 440.2,316.7" fill="none" stroke="#0000ff" stroke-width="1.1" stroke-linejoin="miter"/><polygon points="465.3,339.3 456.9,334.6 456.9,344" fill="none" stroke="#0000ff" stroke-width="1.1" stroke-linejoin="miter"/><polygon points="480.9,338 472.5,333.3 472.5,342.7" fill="none" stroke="#0000ff" stroke-width="1.1" stroke-linejoin="miter"/><polygon points="497.5,340.6 489.1,335.9 489.1,345.3" fill="none" stroke="#0000ff" stroke-width="1.1" stroke-linejoin="miter"/><polygon points="515.5,329.5 507.1,324.8 507.1,334.2" fill="none" stroke="#0000ff" stroke-width="1.1" stroke-linejoin="miter"/></g>
<path d="M48.58 301.93L51 294.55L52.91 286.91L54.82 279.27L56.73 270.36L58.25 265.27L59.53 264.25L60.8 266.55L62.07 272.91L63.35 280.55L64.36 286.91L65.64 292.64L67.55 299.64L69.46 306L71.36 314.73L73.27 322.36L74.55 328.73L78.11 328.98L81.55 328.73L84.73 332.55L87.27 338.91L88.87 344L91.09 350.36L93.64 354.82L95.55 351.64L97.46 344L100 336.36L101.91 326.18L103.82 316L105.73 307.09L107.64 299.45L109.55 293.09L111.69 288.36L114.45 293.82L116.36 298.27L118.27 299.55L120.18 295.09L121.71 293.18L122.73 296.36L124 303.36L125.27 309.73L126.55 315.46L127.82 319.91L129.09 324.36L131 328.18L132.91 335.09L134.82 341.46L136.73 347.82L138.64 352.91L140.55 358L142.46 362.46L144.36 365.64L146.27 364.36L148.18 363.09L150.73 362.46L153.27 365L155.82 367.55L158.36 368.18L160.91 366.91L164.09 366.27L166.64 366.91L169.82 366.91L173 368.82L176.18 370.73L179.91 372.86L183.64 373.73L187.45 375L191.27 374.36L193.82 373.09L196.36 373.09L200.18 375.64L203.36 376.91L206.55 377.55L209.73 378.82L212.91 380.09L216.73 382L219.91 383.91L223.09 384.55L226.27 385.18L229.46 385.18L233.27 385.18L237.09 385.82L240.91 385.82L245.82 384.18L249.64 383.55L253.45 382.27L257.27 381L262.36 380.36L266.18 380.36L270 381.64L273.82 381L278.91 380.36L282.73 381.64L286.55 382.91L290.36 383.55L295.46 384.18L299.27 384.18L303.09 384.18L306.91 383.55L311.18 378.48L314.36 381.03L318.18 381.66L322 381.03L324.55 379.76L327.73 378.48L330.91 376.57L334.73 375.94L338.55 375.94L342.36 375.3L344.91 374.66L347.46 373.39L350 372.12L352.55 370.85L355.09 369.57L357.64 368.3L360.82 367.66L364 367.03L367.82 366.39L371.64 365.12L374.18 364.48L377.18 366.83L380.36 367.46L384.18 366.19L388 364.28L390.55 362.37L393.73 361.1L396.91 359.19L400.09 358.55L403.27 360.46L406.46 363.01L410.27 365.55L413.46 369.37L416 372.56L418.55 374.46L421.09 376.37L423.64 377.01L426.82 377.01L430 377.01L433.82 377.65L437.64 378.28L440.18 378.28L444 377.65L452 381.86L459.38 380.59L462.18 382.5L466 384.41L469.82 381.23L473 379.32L475.8 379.32L478.73 378.05L481.91 376.14L485.09 374.23L488.91 372.32L492.22 371.68L495.91 372.96L499.73 372.32L504.18 372.96L508.64 372.96L511.82 371.68L515 372.96L517.55 374.86" fill="none" stroke="#00ffff" stroke-width="1.1" stroke-linejoin="round"/>
<g><polygon points="48.6,297.27 49.93,299.57 52.58,299.57 51.25,301.87 52.58,304.17 49.93,304.17 48.6,306.47 47.27,304.17 44.62,304.17 45.95,301.87 44.62,299.57 47.27,299.57" fill="none" stroke="#00ffff" stroke-width="1.1" stroke-linejoin="miter"/><polygon points="65.63,288 66.96,290.3 69.61,290.3 68.28,292.6 69.61,294.9 66.96,294.89 65.63,297.2 64.3,294.89 61.65,294.9 62.98,292.6 61.65,290.3 64.3,290.3" fill="none" stroke="#00ffff" stroke-width="1.1" stroke-linejoin="miter"/><polygon points="82.06,324.74 83.39,327.04 86.04,327.04 84.71,329.34 86.04,331.64 83.39,331.64 82.06,333.94 80.73,331.64 78.08,331.64 79.41,329.34 78.08,327.04 80.73,327.04" fill="none" stroke="#00ffff" stroke-width="1.1" stroke-linejoin="miter"/><polygon points="98.49,336.3 99.82,338.6 102.47,338.6 101.14,340.9 102.47,343.2 99.82,343.2 98.49,345.5 97.16,343.2 94.51,343.2 95.84,340.9 94.51,338.6 97.16,338.6" fill="none" stroke="#00ffff" stroke-width="1.1" stroke-linejoin="miter"/><polygon points="114.92,290.32 116.25,292.62 118.9,292.62 117.57,294.92 118.9,297.22 116.25,297.21 114.92,299.52 113.59,297.21 110.94,297.22 112.27,294.92 110.94,292.62 113.59,292.62" fill="none" stroke="#00ffff" stroke-width="1.1" stroke-linejoin="miter"/><polygon points="131.35,324.85 132.68,327.15 135.33,327.15 134,329.45 135.33,331.75 132.68,331.74 131.35,334.05 130.02,331.74 127.37,331.75 128.7,329.45 127.37,327.15 130.02,327.15" fill="none" stroke="#00ffff" stroke-width="1.1" stroke-linejoin="miter"/><polygon points="147.78,358.76 149.11,361.06 151.76,361.06 150.43,363.36 151.76,365.66 149.11,365.65 147.78,367.96 146.45,365.65 143.8,365.66 145.13,363.36 143.8,361.06 146.45,361.06" fill="none" stroke="#00ffff" stroke-width="1.1" stroke-linejoin="miter"/><polygon points="164.21,361.7 165.54,364 168.19,364 166.86,366.3 168.19,368.6 165.54,368.6 164.21,370.9 162.88,368.6 160.23,368.6 161.56,366.3 160.23,364 162.88,364" fill="none" stroke="#00ffff" stroke-width="1.1" stroke-linejoin="miter"/><polygon points="180.64,368.43 181.97,370.73 184.62,370.73 183.29,373.03 184.62,375.33 181.97,375.33 180.64,377.63 179.31,375.33 176.66,375.33 177.99,373.03 176.66,370.73 179.31,370.73" fill="none" stroke="#00ffff" stroke-width="1.1" stroke-linejoin="miter"/><polygon points="197.07,368.96 198.4,371.27 201.05,371.26 199.72,373.56 201.05,375.86 198.4,375.86 197.07,378.16 195.74,375.86 193.09,375.86 194.42,373.56 193.09,371.26 195.74,371.27" fill="none" stroke="#00ffff" stroke-width="1.1" stroke-linejoin="miter"/><polygon points="213.5,375.78 214.83,378.09 217.48,378.08 216.15,380.38 217.48,382.69 214.83,382.68 213.5,384.99 212.17,382.68 209.52,382.69 210.85,380.38 209.52,378.08 212.17,378.09" fill="none" stroke="#00ffff" stroke-width="1.1" stroke-linejoin="miter"/><polygon points="229.93,380.58 231.26,382.88 233.91,382.88 232.58,385.18 233.91,387.48 231.26,387.48 229.93,389.78 228.6,387.48 225.95,387.48 227.28,385.18 225.95,382.88 228.6,382.88" fill="none" stroke="#00ffff" stroke-width="1.1" stroke-linejoin="miter"/><polygon points="246.36,379.49 247.69,381.79 250.34,381.79 249.01,384.09 250.34,386.39 247.69,386.39 246.36,388.69 245.03,386.39 242.38,386.39 243.71,384.09 242.38,381.79 245.03,381.79" fill="none" stroke="#00ffff" stroke-width="1.1" stroke-linejoin="miter"/><polygon points="262.79,375.76 264.12,378.06 266.77,378.06 265.44,380.36 266.77,382.66 264.12,382.66 262.79,384.96 261.46,382.66 258.81,382.66 260.14,380.36 258.81,378.06 261.46,378.06" fill="none" stroke="#00ffff" stroke-width="1.1" stroke-linejoin="miter"/><polygon points="279.22,375.86 280.55,378.17 283.2,378.16 281.87,380.46 283.2,382.76 280.55,382.76 279.22,385.06 277.89,382.76 275.24,382.76 276.57,380.46 275.24,378.16 277.89,378.17" fill="none" stroke="#00ffff" stroke-width="1.1" stroke-linejoin="miter"/><polygon points="295.65,379.58 296.98,381.88 299.63,381.88 298.3,384.18 299.63,386.48 296.98,386.48 295.65,388.78 294.32,386.48 291.67,386.48 293,384.18 291.67,381.88 294.32,381.88" fill="none" stroke="#00ffff" stroke-width="1.1" stroke-linejoin="miter"/><polygon points="312.08,374.6 313.41,376.9 316.06,376.9 314.73,379.2 316.06,381.5 313.41,381.5 312.08,383.8 310.75,381.5 308.1,381.5 309.43,379.2 308.1,376.9 310.75,376.9" fill="none" stroke="#00ffff" stroke-width="1.1" stroke-linejoin="miter"/><polygon points="328.51,373.41 329.84,375.71 332.49,375.71 331.16,378.01 332.49,380.31 329.84,380.31 328.51,382.61 327.18,380.31 324.53,380.31 325.86,378.01 324.53,375.71 327.18,375.71" fill="none" stroke="#00ffff" stroke-width="1.1" stroke-linejoin="miter"/><polygon points="344.94,370.05 346.27,372.35 348.92,372.35 347.59,374.65 348.92,376.95 346.27,376.94 344.94,379.25 343.61,376.94 340.96,376.95 342.29,374.65 340.96,372.35 343.61,372.35" fill="none" stroke="#00ffff" stroke-width="1.1" stroke-linejoin="miter"/><polygon points="361.37,362.95 362.7,365.25 365.35,365.25 364.02,367.55 365.35,369.85 362.7,369.85 361.37,372.15 360.04,369.85 357.39,369.85 358.72,367.55 357.39,365.25 360.04,365.25" fill="none" stroke="#00ffff" stroke-width="1.1" stroke-linejoin="miter"/><polygon points="377.8,362.35 379.13,364.65 381.78,364.65 380.45,366.95 381.78,369.25 379.13,369.25 377.8,371.55 376.47,369.25 373.82,369.25 375.15,366.95 373.82,364.65 376.47,364.65" fill="none" stroke="#00ffff" stroke-width="1.1" stroke-linejoin="miter"/><polygon points="394.23,356.2 395.56,358.5 398.21,358.5 396.88,360.8 398.21,363.1 395.56,363.1 394.23,365.4 392.9,363.1 390.25,363.1 391.58,360.8 390.25,358.5 392.9,358.5" fill="none" stroke="#00ffff" stroke-width="1.1" stroke-linejoin="miter"/><polygon points="410.66,361.42 411.99,363.72 414.64,363.72 413.31,366.02 414.64,368.32 411.99,368.32 410.66,370.62 409.33,368.32 406.68,368.32 408.01,366.02 406.68,363.72 409.33,363.72" fill="none" stroke="#00ffff" stroke-width="1.1" stroke-linejoin="miter"/><polygon points="427.09,372.41 428.42,374.71 431.07,374.71 429.74,377.01 431.07,379.31 428.42,379.31 427.09,381.61 425.76,379.31 423.11,379.31 424.44,377.01 423.11,374.71 425.76,374.71" fill="none" stroke="#00ffff" stroke-width="1.1" stroke-linejoin="miter"/><polygon points="443.52,373.13 444.85,375.43 447.5,375.43 446.17,377.73 447.5,380.03 444.85,380.03 443.52,382.33 442.19,380.03 439.54,380.03 440.87,377.73 439.54,375.43 442.19,375.43" fill="none" stroke="#00ffff" stroke-width="1.1" stroke-linejoin="miter"/><polygon points="459.95,376.38 461.28,378.68 463.93,378.68 462.6,380.98 463.93,383.28 461.28,383.28 459.95,385.58 458.62,383.28 455.97,383.28 457.3,380.98 455.97,378.68 458.62,378.68" fill="none" stroke="#00ffff" stroke-width="1.1" stroke-linejoin="miter"/><polygon points="476.38,374.47 477.71,376.77 480.36,376.77 479.03,379.07 480.36,381.37 477.71,381.37 476.38,383.67 475.05,381.37 472.4,381.37 473.73,379.07 472.4,376.77 475.05,376.77" fill="none" stroke="#00ffff" stroke-width="1.1" stroke-linejoin="miter"/><polygon points="492.81,367.28 494.14,369.59 496.79,369.58 495.46,371.88 496.79,374.18 494.14,374.18 492.81,376.48 491.48,374.18 488.83,374.18 490.16,371.88 488.83,369.58 491.48,369.59" fill="none" stroke="#00ffff" stroke-width="1.1" stroke-linejoin="miter"/><polygon points="509.24,368.12 510.57,370.42 513.22,370.42 511.89,372.72 513.22,375.02 510.57,375.02 509.24,377.32 507.91,375.02 505.26,375.02 506.59,372.72 505.26,370.42 507.91,370.42" fill="none" stroke="#00ffff" stroke-width="1.1" stroke-linejoin="miter"/></g>
<path d="M48.6 320.2L50.4 326L51.4 331L52.7 335.7L54.5 339L56 340.2L58.7 342.9L61.4 340.2L64.7 336.2L67 337.8L69.5 337.5L71.5 334L73.5 330.8L75 332L76.2 334.8L78.2 341.5L81.6 349L84.9 352.3L88.3 359L92.3 364.4L96.4 369.8L98.4 373.8L100 378.36L102.55 381.55L106.36 382.18L110.18 382.82L113.36 382.18L114.45 381.9L117.64 383.17L121.45 383.81L125.27 383.17L127.82 382.54L131 380.63L134.18 382.54L137.36 381.26L140.55 379.99L143.73 378.72L147.55 378.72L151.36 381.9L154.55 383.81L158.36 383.17L160.91 382.54L164.09 382.54L167.27 383.81L171.09 384.45L174.91 385.08L178.09 387.63L179.82 387.26L183.64 388.53L187.45 389.8L191.27 390.44L196.36 389.8L201.46 391.07L206.55 391.71L212.91 391.07L216.73 390.44L220.55 389.8L224.36 389.16L226.91 387.89L229.46 387.26L233.27 388.53L237.09 389.8L240.91 391.71L245.82 389L249.64 390.27L254.73 390.91L258.55 389.64L262.36 387.73L266.18 389.64L270 390.91L273.82 390.27L278.91 388.36L282.73 389.64L286.55 390.27L290.36 389.64L295.46 387.73L299.27 389L303.09 390.27L306.91 390.27L311.18 387.23L314.36 389.14L318.18 389.77L322 389.14L327.73 387.86L330.91 389.14L334.73 389.14L338.55 387.86L344.27 386.59L348.73 387.86L352.55 387.86L356.36 386.59L360.82 385.32L364 386.59L367.82 387.23L371.64 386.59L377.18 383.37L380.36 384.65L384.18 385.28L388 384.65L390.55 384.01L393.73 384.01L396.91 382.1L400.09 380.19L403.27 380.19L406.46 377.01L410.27 374.46L413.46 376.37L417.27 378.28L421.09 378.92L426.82 378.92L430 380.19L433.82 380.83L437.64 384.01L441.46 385.92L452 385.38L459.38 386.02L462.18 387.93L466 388.56L469.82 386.66L473 384.75L475.8 382.84L478.73 382.84L481.91 381.56L485.09 379.66L488.91 379.02L492.22 378.38L495.27 379.66L497.82 380.93L500.36 378.38L502.91 379.02L505.46 380.93L508.64 382.2L511.82 383.47L515 383.47L517.55 385.38" fill="none" stroke="#ffff00" stroke-width="1.1" stroke-linejoin="round"/>
<g><polygon points="48.6,314.4 53.2,323.1 44,323.1" fill="none" stroke="#ffff00" stroke-width="1.1" stroke-linejoin="miter"/><polygon points="65.63,331.05 70.23,339.75 61.03,339.75" fill="none" stroke="#ffff00" stroke-width="1.1" stroke-linejoin="miter"/><polygon points="82.06,343.66 86.66,352.36 77.46,352.36" fill="none" stroke="#ffff00" stroke-width="1.1" stroke-linejoin="miter"/><polygon points="98.49,368.26 103.09,376.96 93.89,376.96" fill="none" stroke="#ffff00" stroke-width="1.1" stroke-linejoin="miter"/><polygon points="114.92,376.29 119.52,384.99 110.32,384.99" fill="none" stroke="#ffff00" stroke-width="1.1" stroke-linejoin="miter"/><polygon points="131.35,375.04 135.95,383.74 126.75,383.74" fill="none" stroke="#ffff00" stroke-width="1.1" stroke-linejoin="miter"/><polygon points="147.78,373.11 152.38,381.81 143.18,381.81" fill="none" stroke="#ffff00" stroke-width="1.1" stroke-linejoin="miter"/><polygon points="164.21,376.79 168.81,385.49 159.61,385.49" fill="none" stroke="#ffff00" stroke-width="1.1" stroke-linejoin="miter"/><polygon points="180.64,381.73 185.24,390.43 176.04,390.43" fill="none" stroke="#ffff00" stroke-width="1.1" stroke-linejoin="miter"/><polygon points="197.07,384.18 201.67,392.88 192.47,392.88" fill="none" stroke="#ffff00" stroke-width="1.1" stroke-linejoin="miter"/><polygon points="213.5,385.17 218.1,393.87 208.9,393.87" fill="none" stroke="#ffff00" stroke-width="1.1" stroke-linejoin="miter"/><polygon points="229.93,381.62 234.53,390.32 225.33,390.32" fill="none" stroke="#ffff00" stroke-width="1.1" stroke-linejoin="miter"/><polygon points="246.36,383.38 250.96,392.08 241.76,392.08" fill="none" stroke="#ffff00" stroke-width="1.1" stroke-linejoin="miter"/><polygon points="262.79,382.14 267.39,390.84 258.19,390.84" fill="none" stroke="#ffff00" stroke-width="1.1" stroke-linejoin="miter"/><polygon points="279.22,382.66 283.82,391.36 274.62,391.36" fill="none" stroke="#ffff00" stroke-width="1.1" stroke-linejoin="miter"/><polygon points="295.65,381.99 300.25,390.69 291.05,390.69" fill="none" stroke="#ffff00" stroke-width="1.1" stroke-linejoin="miter"/><polygon points="312.08,381.97 316.68,390.67 307.48,390.67" fill="none" stroke="#ffff00" stroke-width="1.1" stroke-linejoin="miter"/><polygon points="328.51,382.37 333.11,391.07 323.91,391.07" fill="none" stroke="#ffff00" stroke-width="1.1" stroke-linejoin="miter"/><polygon points="344.94,380.98 349.54,389.68 340.34,389.68" fill="none" stroke="#ffff00" stroke-width="1.1" stroke-linejoin="miter"/><polygon points="361.37,379.74 365.97,388.44 356.77,388.44" fill="none" stroke="#ffff00" stroke-width="1.1" stroke-linejoin="miter"/><polygon points="377.8,377.82 382.4,386.52 373.2,386.52" fill="none" stroke="#ffff00" stroke-width="1.1" stroke-linejoin="miter"/><polygon points="394.23,377.91 398.83,386.61 389.63,386.61" fill="none" stroke="#ffff00" stroke-width="1.1" stroke-linejoin="miter"/><polygon points="410.66,368.89 415.26,377.59 406.06,377.59" fill="none" stroke="#ffff00" stroke-width="1.1" stroke-linejoin="miter"/><polygon points="427.09,373.23 431.69,381.93 422.49,381.93" fill="none" stroke="#ffff00" stroke-width="1.1" stroke-linejoin="miter"/><polygon points="443.52,380.01 448.12,388.71 438.92,388.71" fill="none" stroke="#ffff00" stroke-width="1.1" stroke-linejoin="miter"/><polygon points="459.95,380.61 464.55,389.31 455.35,389.31" fill="none" stroke="#ffff00" stroke-width="1.1" stroke-linejoin="miter"/><polygon points="476.38,377.04 480.98,385.74 471.78,385.74" fill="none" stroke="#ffff00" stroke-width="1.1" stroke-linejoin="miter"/><polygon points="492.81,372.83 497.41,381.53 488.21,381.53" fill="none" stroke="#ffff00" stroke-width="1.1" stroke-linejoin="miter"/><polygon points="509.24,376.64 513.84,385.34 504.64,385.34" fill="none" stroke="#ffff00" stroke-width="1.1" stroke-linejoin="miter"/></g>
<line x1="126.5" y1="23.5" x2="126.5" y2="401" stroke="#ff0000" stroke-width="1.4" stroke-dasharray="9.6 4.59"/>
<line x1="283.5" y1="23.5" x2="283.5" y2="401" stroke="#ff0000" stroke-width="1.4" stroke-dasharray="9.6 4.59"/>
<line x1="440.3" y1="23.5" x2="440.3" y2="401" stroke="#ff0000" stroke-width="1.4" stroke-dasharray="9.6 4.59"/>
<path d="M48.5 26V395.5H518M48.5 395.5v-4.7M126.5 395.5v-4.7M205.5 395.5v-4.7M283.5 395.5v-4.7M361.5 395.5v-4.7M440.5 395.5v-4.7M517.5 395.5v-4.7M48.5 395.5h4.7M48.5 321.5h4.7M48.5 247.5h4.7M48.5 174.5h4.7M48.5 100.5h4.7M48.5 26.5h4.7" stroke="#262626" stroke-width="1" fill="none"/>
<text x="48.5" y="416.4" font-size="14" text-anchor="middle">0</text>
<text x="126.78" y="416.4" font-size="14" text-anchor="middle">100</text>
<text x="205.07" y="416.4" font-size="14" text-anchor="middle">200</text>
<text x="283.35" y="416.4" font-size="14" text-anchor="middle">300</text>
<text x="361.63" y="416.4" font-size="14" text-anchor="middle">400</text>
<text x="439.92" y="416.4" font-size="14" text-anchor="middle">500</text>
<text x="518.2" y="416.4" font-size="14" text-anchor="middle">600</text>
<text x="42" y="401.1" font-size="14" text-anchor="end">0</text>
<text x="42" y="327.36" font-size="14" text-anchor="end">0.5</text>
<text x="42" y="253.62" font-size="14" text-anchor="end">1</text>
<text x="42" y="179.88" font-size="14" text-anchor="end">1.5</text>
<text x="42" y="106.14" font-size="14" text-anchor="end">2</text>
<text x="42" y="32.4" font-size="14" text-anchor="end">2.5</text>
<text x="49.2" y="24.4" font-size="14"><tspan font-size="16">×</tspan><tspan dx="1" dy="-1.5">10</tspan><tspan dy="-6.1" font-size="10.8" dx="1.6">16</tspan></text>
<text transform="translate(15.7,199.3) rotate(-90)" font-size="15.7" text-anchor="middle">Accumulative Amplitude</text>
<text x="473.6" y="437.5" font-size="15.7" letter-spacing="0.25">tm(/20ms)</text>
<text x="126.18" y="434" font-size="14.8" text-anchor="middle" style="font-family:'Liberation Serif', 'Times New Roman', Times, serif;fill:#3a3a3a;stroke:none">t1</text>
<text x="287.45" y="434" font-size="14.8" text-anchor="middle" style="font-family:'Liberation Serif', 'Times New Roman', Times, serif;fill:#3a3a3a;stroke:none">t2</text>
<text x="440.52" y="434" font-size="14.8" text-anchor="middle" style="font-family:'Liberation Serif', 'Times New Roman', Times, serif;fill:#3a3a3a;stroke:none">t3</text>
<rect x="326" y="34" width="102.5" height="140.2" fill="#fff" stroke="#262626" stroke-width="0.9"/>
<line x1="330.5" y1="44.4" x2="373.6" y2="44.4" stroke="#ff0000" stroke-width="1.1"/>
<circle cx="352.2" cy="44.4" r="4.35" fill="none" stroke="#ff0000" stroke-width="1.1" stroke-linejoin="miter"/>
<text x="377.3" y="49.1" font-size="12.8" fill="#000" style="fill:#000;stroke:#000;stroke-width:0.4px">SAT#1</text>
<line x1="330.5" y1="61.45" x2="373.6" y2="61.45" stroke="#00ff00" stroke-width="1.1"/>
<circle cx="352.2" cy="61.45" r="1.6" fill="#00ff00"/>
<text x="377.3" y="66.15" font-size="12.8" fill="#000" style="fill:#000;stroke:#000;stroke-width:0.4px">SAT#3</text>
<line x1="330.5" y1="78.5" x2="373.6" y2="78.5" stroke="#0000ff" stroke-width="1.1"/>
<rect x="348.5" y="74.8" width="7.4" height="7.4" fill="none" stroke="#0000ff" stroke-width="1.1" stroke-linejoin="miter"/>
<text x="377.3" y="83.2" font-size="12.8" fill="#000" style="fill:#000;stroke:#000;stroke-width:0.4px">SAT#6</text>
<line x1="330.5" y1="95.55" x2="373.6" y2="95.55" stroke="#ff00ff" stroke-width="1.1"/>
<polygon points="352.2,91.15 353.19,94.19 356.38,94.19 353.8,96.07 354.79,99.11 352.2,97.23 349.61,99.11 350.6,96.07 348.02,94.19 351.21,94.19" fill="none" stroke="#ff00ff" stroke-width="1.1" stroke-linejoin="miter"/>
<text x="377.3" y="100.25" font-size="12.8" fill="#000" style="fill:#000;stroke:#000;stroke-width:0.4px">SAT#8</text>
<line x1="330.5" y1="112.6" x2="373.6" y2="112.6" stroke="#000000" stroke-width="1.1"/>
<path d="M348.3 112.6L356.1 112.6M349.44 109.84L354.96 115.36M352.2 108.7L352.2 116.5M354.96 109.84L349.44 115.36" fill="none" stroke="#000000" stroke-width="1.1" stroke-linejoin="miter"/>
<text x="377.3" y="117.3" font-size="12.8" fill="#000" style="fill:#000;stroke:#000;stroke-width:0.4px">SAT#13</text>
<line x1="330.5" y1="129.65" x2="373.6" y2="129.65" stroke="#0000ff" stroke-width="1.1"/>
<polygon points="357.8,129.65 349.4,124.95 349.4,134.35" fill="none" stroke="#0000ff" stroke-width="1.1" stroke-linejoin="miter"/>
<text x="377.3" y="134.35" font-size="12.8" fill="#000" style="fill:#000;stroke:#000;stroke-width:0.4px">SAT#38</text>
<line x1="330.5" y1="146.7" x2="373.6" y2="146.7" stroke="#00ffff" stroke-width="1.1"/>
<polygon points="352.2,142.1 353.53,144.4 356.18,144.4 354.85,146.7 356.18,149 353.53,149 352.2,151.3 350.87,149 348.22,149 349.55,146.7 348.22,144.4 350.87,144.4" fill="none" stroke="#00ffff" stroke-width="1.1" stroke-linejoin="miter"/>
<text x="377.3" y="151.4" font-size="12.8" fill="#000" style="fill:#000;stroke:#000;stroke-width:0.4px">SAT#59</text>
<line x1="330.5" y1="163.75" x2="373.6" y2="163.75" stroke="#ffff00" stroke-width="1.1"/>
<polygon points="352.2,157.95 356.8,166.65 347.6,166.65" fill="none" stroke="#ffff00" stroke-width="1.1" stroke-linejoin="miter"/>
<text x="377.3" y="168.45" font-size="12.8" fill="#000" style="fill:#000;stroke:#000;stroke-width:0.4px">SAT#60</text>
</svg></body></html>
